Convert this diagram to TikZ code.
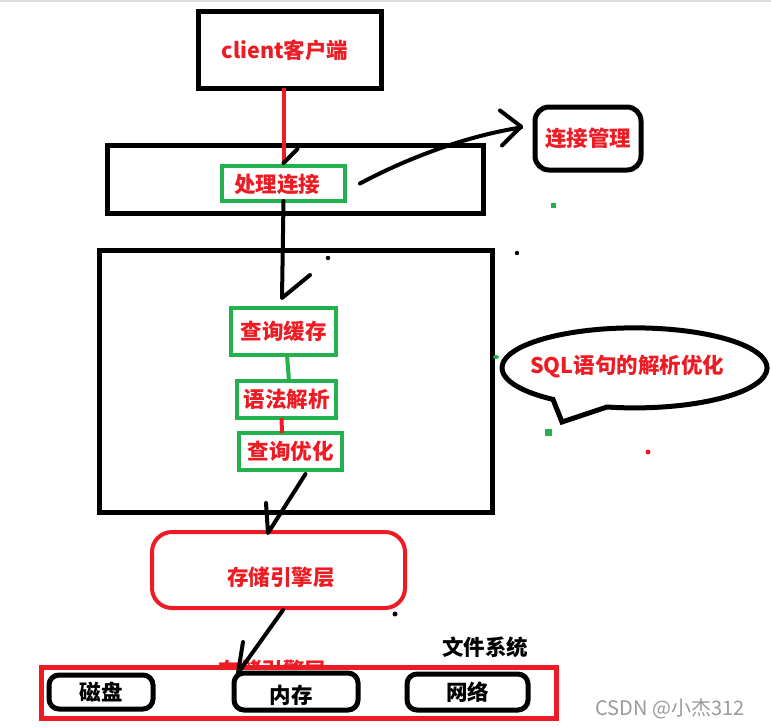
\documentclass[tikz,border=0pt]{standalone}
\usepackage{fontspec}
\setmainfont{Noto Sans CJK SC}
\definecolor{pred}{HTML}{ED1C24}
\definecolor{pgreen}{HTML}{22B14C}
\definecolor{wmgray}{HTML}{9A9A9A}
\tikzset{
  box/.style={draw=black, line width=5pt, inner sep=0pt, outer sep=0pt},
  gbox/.style={draw=pgreen, line width=4pt, inner sep=0pt, outer sep=0pt},
  rtxt/.style={text=pred, font=\bfseries\fontsize{21.5}{21.5}\selectfont},
  ktxt/.style={text=black, font=\bfseries\fontsize{21.5}{21.5}\selectfont},
  blkline/.style={draw=black, line width=4pt, line cap=round, line join=round},
  redline/.style={draw=pred, line width=4pt},
  grnline/.style={draw=pgreen, line width=4pt},
}
\begin{document}
\begin{tikzpicture}[x=1pt, y=-1pt]
\useasboundingbox (0,0) rectangle (771,728);
\fill[white] (0,0) rectangle (771,728);
\draw[black!13, line width=1.5pt] (0,0.75) -- (771,0.75);

% client
\node[box, minimum width=183pt, minimum height=77pt] (client) at (289.5,49.5) {};
\node[rtxt] (clienttxt) at (285,50) {client客户端};
% connection layer
\node[box, minimum width=376pt, minimum height=68pt] (connlayer) at (295,179) {};
\node[gbox, minimum width=123pt, minimum height=35pt] (proc) at (283.5,183.5) {};
\node[rtxt] (proctxt) at (277,184) {处理连接};
% connection management
\node[box, rounded corners=14pt, minimum width=106pt, minimum height=63pt, rtxt] (mgmt) at (588,138.5) {连接管理};
% SQL layer
\node[box, minimum width=393pt, minimum height=262pt] (sqllayer) at (295.5,381) {};
\node[gbox, minimum width=105pt, minimum height=47pt, rtxt] (cache) at (283.5,331.5) {查询缓存};
\node[gbox, minimum width=99pt, minimum height=37pt, rtxt] (parse) at (286.5,399.5) {语法解析};
\node[gbox, minimum width=103pt, minimum height=37pt, rtxt] (opt) at (290.5,451.5) {查询优化};
% storage engine
\node[draw=pred, line width=4pt, rounded corners=20pt, inner sep=0pt, outer sep=0pt, minimum width=253pt, minimum height=76pt] (engine) at (278.5,570) {};
\node[rtxt] (enginetxt) at (281,577) {存储引擎层};
% clipped red fragment
\begin{scope}
\clip (215,657) rectangle (330,665);
\node[rtxt, inner sep=0pt] (frag) at (272.5,670) {存储引擎层};
\end{scope}
% file system
\node[ktxt] (fslabel) at (485,647) {文件系统};
\node[draw=pred, line width=5pt, inner sep=0pt, outer sep=0pt, minimum width=515pt, minimum height=51pt] (fs) at (298.5,692.5) {};
\node[box, rounded corners=10pt, minimum width=104pt, minimum height=34pt, ktxt] (disk) at (101,692) {磁盘};
\node[box, rounded corners=10pt, minimum width=124pt, minimum height=37pt] (mem) at (296,691.5) {};
\node[ktxt] (memtxt) at (291,695) {内存};
\node[box, rounded corners=10pt, minimum width=121pt, minimum height=36pt, ktxt] (net) at (467.5,692) {网络};

% speech bubble
\draw[black, line width=5pt, line join=miter] (607,407) arc[start angle=102, end angle=-232, x radius=132.5, y radius=40] -- (562,422) -- cycle;
\node[rtxt] (bubtxt) at (627,366) {SQL语句的解析优化};

% connectors
\draw[redline] (proc.north |- client.south) -- ([yshift=3pt]proc.north);
\draw[blkline] ([yshift=3pt]proc.north) -- ++(14,-14);
\coordinate (a1) at (282,298);
\draw[blkline] (proc.south) -- (a1) -- ++(28,-23);
\draw[blkline] ([xshift=15pt]proc.east) .. controls (400,162) and (460,137) .. ([xshift=-14pt,yshift=11pt]mgmt.west);
\draw[blkline] ([xshift=-35pt,yshift=28pt]mgmt.west) -- ([xshift=-14pt,yshift=12pt]mgmt.west) -- ([xshift=-33pt,yshift=-7pt]mgmt.west);
\draw[grnline] ([xshift=3.5pt]cache.south) -- ([xshift=2.5pt]parse.north);
\draw[redline] ([xshift=-5pt]parse.south) -- ([xshift=-8.5pt]opt.north);
\draw[blkline] ([xshift=15pt,yshift=-4pt]opt.south) -- ([xshift=-10.5pt,yshift=-1pt]engine.north) -- ++(-2,-30);
\draw[blkline] ([xshift=4.5pt,yshift=-2pt]engine.south) -- ([xshift=-58pt]mem.north) -- ++(5,-31);

% stray dots
\fill[black] (328,258) circle[radius=2.2];
\fill[black] (517,253) circle[radius=2.2];
\fill[black] (395,614) circle[radius=2.5];
\fill[pgreen] (550.5,202.5) rectangle ++(5,5);
\fill[pgreen] (496,357) ellipse[x radius=3, y radius=2];
\fill[pgreen] (545,429) rectangle ++(7,7);
\fill[pred] (648,452) circle[radius=2.5];

% watermark
\node[text=wmgray, font=\fontsize{20}{20}\selectfont, inner sep=0pt] (wm) at (670,709) {CSDN @小杰312};
\end{tikzpicture}
\end{document}
